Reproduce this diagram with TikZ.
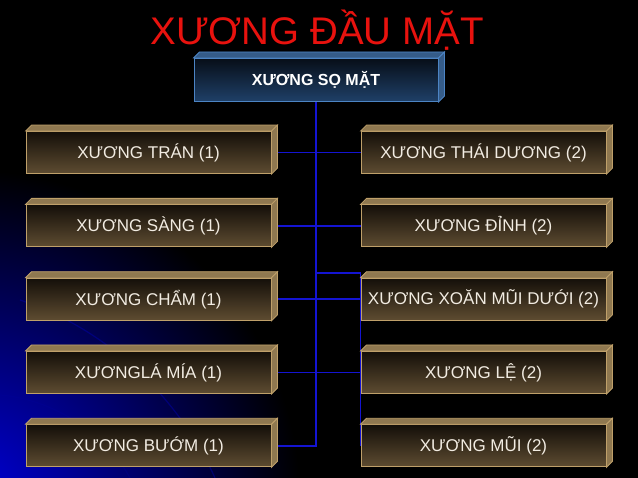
\documentclass[tikz,border=0pt]{standalone}
\usepackage{fontspec}
\setmainfont{Liberation Sans}
\usetikzlibrary{positioning}
\pgfdeclarelayer{back}
\pgfdeclarelayer{lines}
\pgfsetlayers{back,lines,main}
\definecolor{leaftop}{HTML}{140F09}
\definecolor{leafbot}{HTML}{5E4C31}
\definecolor{leafedge}{HTML}{BFA06A}
\definecolor{leaftext}{HTML}{F2ECE2}
\definecolor{roottop}{HTML}{070E18}
\definecolor{rootbot}{HTML}{1F4068}
\definecolor{rootedge}{HTML}{4C84C4}
\definecolor{linkblue}{HTML}{1414D2}
\definecolor{headred}{HTML}{E8120E}

\begin{document}
\begin{tikzpicture}[x=1pt,y=-1pt,
		node distance=30.3pt and 89pt,
		root/.style={rectangle,draw=rootedge,line width=1pt,top color=roottop,bottom color=rootbot,
			minimum width=244pt,minimum height=43pt,inner sep=0pt,text=white,
			font=\fontsize{16}{18}\selectfont\bfseries},
		leaf/.style={rectangle,draw=leafedge,line width=1pt,top color=leaftop,bottom color=leafbot,
			minimum width=245pt,minimum height=42pt,inner sep=0pt,text=leaftext,
			font=\fontsize{17}{19}\selectfont},
		rootface/.style={draw=rootedge,line width=.8pt,fill=rootedge!70!black},
		leafface/.style={draw=leafedge,line width=.8pt,fill=leafedge!75!black},
		link/.style={draw=linkblue,line width=1.8pt},
		head/.style={text=headred,font=\fontsize{38.5}{42}\selectfont,anchor=base}]
		\useasboundingbox (0,0) rectangle (638,478);
		% Background
		\begin{pgfonlayer}{back}
			\fill[black] (0,0) rectangle (638,478);
			\begin{scope}
				\clip (0,0) rectangle (638,478);
				\shade[inner color=blue!85!black,outer color=black] (-30,500) circle (330);
				\draw[blue!70!black,opacity=.45,line width=1.2pt] (20,300) .. controls (110,330) and (180,400) .. (215,478);
				\draw[blue!60!black,opacity=.35,line width=1pt] (0,395) .. controls (60,400) and (110,440) .. (130,478);
			\end{scope}
		\end{pgfonlayer}
		% Title
		\node[head] (title) at (317,45) {XƯƠNG ĐẦU MẶT};
		% Parent
		\node[root] (top) at (316,80) {XƯƠNG SỌ MẶT};
		% Children, left column
		\node[leaf] (l1) at (148.5,152.6) {XƯƠNG TRÁN (1)};
		\node[leaf,below=of l1] (l2) {XƯƠNG SÀNG (1)};
		\node[leaf,below=of l2] (l3) {XƯƠNG CHẨM (1)};
		\node[leaf,below=of l3] (l4) {XƯƠNGLÁ MÍA (1)};
		\node[leaf,below=of l4] (l5) {XƯƠNG BƯỚM (1)};
		% Children, right column
		\node[leaf,right=of l1] (r1) {XƯƠNG THÁI DƯƠNG (2)};
		\node[leaf,right=of l2] (r2) {XƯƠNG ĐỈNH (2)};
		\node[leaf,right=of l3] (r3) {XƯƠNG XOĂN MŨI DƯỚI (2)};
		\node[leaf,right=of l4] (r4) {XƯƠNG LỆ (2)};
		\node[leaf,right=of l5] (r5) {XƯƠNG MŨI (2)};
		% Bevels
		\foreach \n/\f in {top/rootface,l1/leafface,l2/leafface,l3/leafface,l4/leafface,l5/leafface,
				r1/leafface,r2/leafface,r3/leafface,r4/leafface,r5/leafface}{
			\filldraw[\f] (\n.north west) -- ++(6,-6) -- ([shift={(6,-6)}]\n.north east) -- (\n.north east) -- cycle;
			\filldraw[\f] (\n.north east) -- ++(6,-6) -- ([shift={(6,-6)}]\n.south east) -- (\n.south east) -- cycle;
		}
		% Connectors (under the boxes)
		\coordinate (hook) at ([yshift=5pt]r3.north west);
		\begin{pgfonlayer}{lines}
			\draw[link] (top) -- (top |- l5) -- (l5);
			\foreach \i in {1,...,4}
				\draw[link] (l\i) -- (r\i);
			\draw[link] (top |- hook) -- (hook) -- (r5.west);
		\end{pgfonlayer}
\end{tikzpicture}
\end{document}
